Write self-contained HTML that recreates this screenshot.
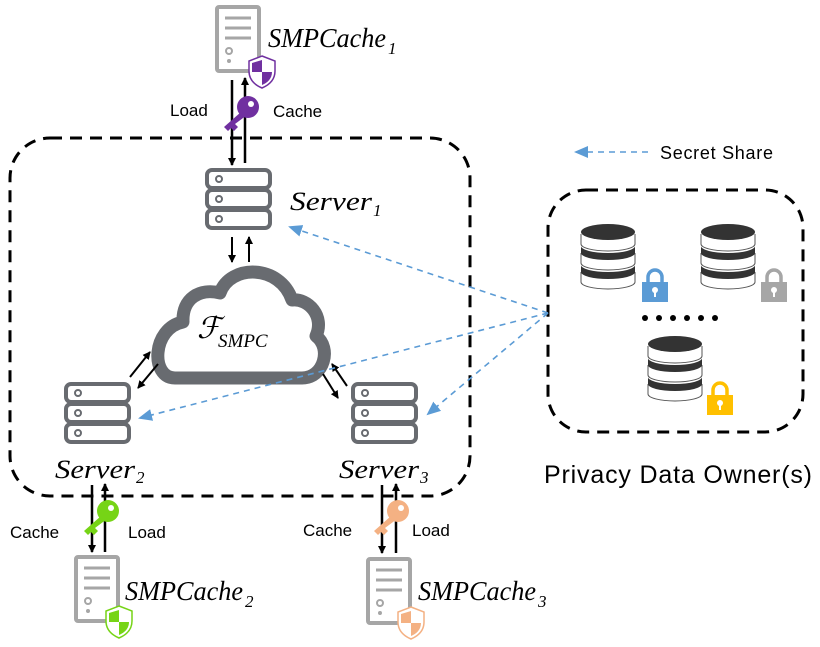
<!DOCTYPE html>
<html><head><meta charset="utf-8"><style>
html,body{margin:0;padding:0;background:#fff;}
svg{display:block;}
.s{font-family:"Liberation Sans",sans-serif;}
.m{font-family:"Liberation Serif",serif;font-style:italic;}
</style></head><body>
<svg width="820" height="647" viewBox="0 0 820 647" xmlns="http://www.w3.org/2000/svg">
<defs>
<marker id="ab" markerWidth="8" markerHeight="8" refX="7" refY="4" orient="auto" markerUnits="userSpaceOnUse"><path d="M0,0 L8,4 L0,8z" fill="#000"/></marker>
<marker id="bl" markerWidth="14" markerHeight="12" refX="12" refY="6" orient="auto" markerUnits="userSpaceOnUse"><path d="M0,0 L14,6 L0,12z" fill="#5b9bd5"/></marker>
<g id="srv">
 <rect x="2" y="2" width="63" height="18" rx="5" fill="#fff" stroke="#686b70" stroke-width="4"/>
 <rect x="2" y="22" width="63" height="18" rx="5" fill="#fff" stroke="#686b70" stroke-width="4"/>
 <rect x="2" y="42" width="63" height="18" rx="5" fill="#fff" stroke="#686b70" stroke-width="4"/>
 <circle cx="14" cy="11" r="3" fill="none" stroke="#686b70" stroke-width="2"/>
 <circle cx="14" cy="31" r="3" fill="none" stroke="#686b70" stroke-width="2"/>
 <circle cx="14" cy="51" r="3" fill="none" stroke="#686b70" stroke-width="2"/>
</g>
<g id="twr">
 <rect x="2" y="2" width="42" height="64" rx="2" fill="#fff" stroke="#a6a6a6" stroke-width="4"/>
 <line x1="10" y1="13" x2="36" y2="13" stroke="#a6a6a6" stroke-width="3"/>
 <line x1="10" y1="23" x2="36" y2="23" stroke="#a6a6a6" stroke-width="3"/>
 <line x1="10" y1="33" x2="36" y2="33" stroke="#a6a6a6" stroke-width="3"/>
 <circle cx="14" cy="46" r="3" fill="none" stroke="#a6a6a6" stroke-width="2"/>
 <circle cx="14" cy="56" r="2" fill="#a6a6a6"/>
</g>
<g id="db">
 <path d="M1,12 v10 a27,7 0 0 0 54,0 v-10" fill="#fff" stroke="#555" stroke-width="1"/>
 <ellipse cx="28" cy="10" rx="27" ry="8" fill="#333"/>
 <path d="M1,31 v10 a27,7 0 0 0 54,0 v-10" fill="#fff" stroke="#555" stroke-width="1"/>
 <path d="M1,24 a27,7 0 0 0 54,0 v7 a27,7 0 0 1 -54,0z" fill="#333"/>
 <path d="M1,50 v10 a27,7 0 0 0 54,0 v-10" fill="#fff" stroke="#555" stroke-width="1"/>
 <path d="M1,43 a27,7 0 0 0 54,0 v7 a27,7 0 0 1 -54,0z" fill="#333"/>
</g>
<g id="lock">
 <path d="M7,14 v-5 a7,7 0 0 1 14,0 v5" fill="none" stroke="currentColor" stroke-width="3.5"/>
 <rect x="1" y="14" width="26" height="20" fill="currentColor"/>
 <circle cx="14" cy="22" r="3" fill="#fff"/><rect x="13" y="22" width="2" height="7" fill="#fff"/>
</g>
<g id="key">
 <circle cx="26" cy="10" r="11" fill="currentColor"/>
 <circle cx="29" cy="7" r="3" fill="#fff"/>
 <path d="M19,15 L2,30 L6,34 L9,31 L12,34 L16,30 L13,27 L25,18z" fill="currentColor"/>
</g>
<g id="shd">
 <path d="M15,1 L28,6 V16 C28,25 22,30 15,33 C8,30 2,25 2,16 V6z" fill="#fff" stroke="currentColor" stroke-width="1.5"/>
 <path d="M15,5 V17 H5 V8z M15,17 H25 C25,24 20,28 15,30z" fill="currentColor"/>
</g>
</defs>

<rect x="10" y="138" width="460" height="358" rx="40" fill="none" stroke="#000" stroke-width="3" stroke-dasharray="12,8"/>
<rect x="548" y="190" width="255" height="242" rx="38" fill="none" stroke="#000" stroke-width="3" stroke-dasharray="12,8"/>

<use href="#twr" x="215" y="5"/>
<use href="#shd" x="247" y="55" style="color:#7030a0"/>
<text class="m" x="268" y="47" font-size="27" textLength="118" lengthAdjust="spacingAndGlyphs">SMPCache</text>
<text class="m" x="388" y="54" font-size="17">1</text>
<line x1="232" y1="80" x2="232" y2="165" stroke="#000" stroke-width="2.5" marker-end="url(#ab)"/>
<line x1="245" y1="163" x2="245" y2="78" stroke="#000" stroke-width="2.5" marker-end="url(#ab)"/>
<use href="#key" x="222" y="97" style="color:#7030a0"/>
<text class="s" x="170" y="116" font-size="17">Load</text>
<text class="s" x="273" y="117" font-size="17">Cache</text>

<use href="#srv" x="205" y="168"/>
<text class="m" x="290" y="210" font-size="26" textLength="82" lengthAdjust="spacingAndGlyphs">Server</text>
<text class="m" x="373" y="216" font-size="17">1</text>
<line x1="232" y1="237" x2="232" y2="262" stroke="#000" stroke-width="2" marker-end="url(#ab)"/>
<line x1="249" y1="262" x2="249" y2="237" stroke="#000" stroke-width="2" marker-end="url(#ab)"/>

<path d="M175,378 C150,378 152,328 183,322 C182,298 200,288 220,293 C230,264 280,264 292,300 C308,298 325,316 316,336 C332,348 324,378 302,378 Z" fill="#fff" stroke="#686b70" stroke-width="13" stroke-linejoin="round"/>
<text font-family="Liberation Serif,serif" font-style="italic" x="197" y="338" font-size="30">ℱ</text>
<text font-family="Liberation Serif,serif" font-style="italic" x="218" y="347" font-size="19">SMPC</text>

<use href="#srv" x="64" y="382"/>
<use href="#srv" x="351" y="382"/>
<text class="m" x="55" y="478" font-size="26" textLength="80" lengthAdjust="spacingAndGlyphs">Server</text>
<text class="m" x="136" y="483" font-size="17">2</text>
<text class="m" x="339" y="478" font-size="26" textLength="80" lengthAdjust="spacingAndGlyphs">Server</text>
<text class="m" x="420" y="483" font-size="17">3</text>

<line x1="130" y1="377" x2="150" y2="352" stroke="#000" stroke-width="2" marker-end="url(#ab)"/>
<line x1="158" y1="364" x2="138" y2="388" stroke="#000" stroke-width="2" marker-end="url(#ab)"/>
<line x1="323" y1="374" x2="338" y2="398" stroke="#000" stroke-width="2" marker-end="url(#ab)"/>
<line x1="347" y1="386" x2="332" y2="364" stroke="#000" stroke-width="2" marker-end="url(#ab)"/>

<line x1="92" y1="485" x2="92" y2="552" stroke="#000" stroke-width="2.5" marker-end="url(#ab)"/>
<line x1="105" y1="552" x2="105" y2="484" stroke="#000" stroke-width="2.5" marker-end="url(#ab)"/>
<line x1="382" y1="485" x2="382" y2="553" stroke="#000" stroke-width="2.5" marker-end="url(#ab)"/>
<line x1="396" y1="553" x2="396" y2="484" stroke="#000" stroke-width="2.5" marker-end="url(#ab)"/>
<use href="#key" x="82" y="501" style="color:#76d416"/>
<use href="#key" x="372" y="501" style="color:#f4b183"/>
<text class="s" x="10" y="538" font-size="17">Cache</text>
<text class="s" x="128" y="538" font-size="17">Load</text>
<text class="s" x="303" y="536" font-size="17">Cache</text>
<text class="s" x="412" y="536" font-size="17">Load</text>

<use href="#twr" x="74" y="555"/>
<use href="#shd" x="104" y="605" style="color:#76d416"/>
<text class="m" x="125" y="600" font-size="27" textLength="118" lengthAdjust="spacingAndGlyphs">SMPCache</text>
<text class="m" x="245" y="607" font-size="17">2</text>
<use href="#twr" x="366" y="557"/>
<use href="#shd" x="396" y="606" style="color:#f4b183"/>
<text class="m" x="418" y="600" font-size="27" textLength="118" lengthAdjust="spacingAndGlyphs">SMPCache</text>
<text class="m" x="538" y="607" font-size="17">3</text>

<g stroke="#5b9bd5" stroke-width="1.6" stroke-dasharray="6,5" fill="none">
<line x1="548" y1="313" x2="290" y2="227" marker-end="url(#bl)"/>
<line x1="548" y1="313" x2="140" y2="418" marker-end="url(#bl)"/>
<line x1="548" y1="313" x2="428" y2="414" marker-end="url(#bl)"/>
<line x1="648" y1="152" x2="576" y2="152" marker-end="url(#bl)"/>
</g>
<text class="s" x="660" y="159" font-size="18" textLength="113">Secret Share</text>

<use href="#db" x="580" y="222"/>
<use href="#db" x="700" y="222"/>
<use href="#db" x="647" y="334"/>
<use href="#lock" x="641" y="268" style="color:#5b9bd5"/>
<use href="#lock" x="760" y="268" style="color:#a6a6a6"/>
<use href="#lock" x="706" y="381" style="color:#ffc000"/>
<g fill="#000"><circle cx="645" cy="318" r="3"/><circle cx="659" cy="318" r="3"/><circle cx="673" cy="318" r="3"/><circle cx="687" cy="318" r="3"/><circle cx="701" cy="318" r="3"/><circle cx="715" cy="318" r="3"/></g>
<text class="s" x="544" y="483" font-size="25" textLength="268">Privacy Data Owner(s)</text>
</svg>
</body></html>
